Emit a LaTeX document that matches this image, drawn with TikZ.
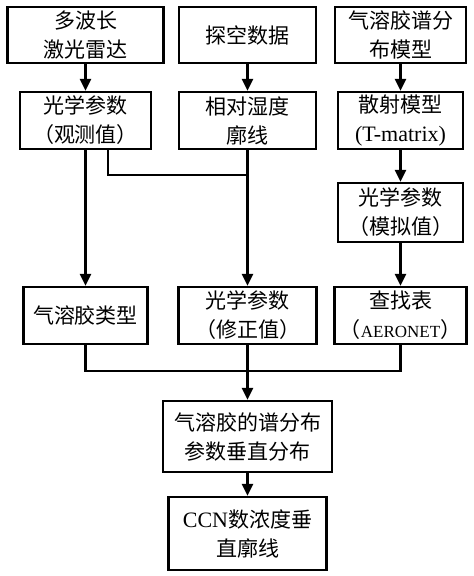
\documentclass[tikz,border=0pt]{standalone}
\usepackage{fontspec}
\setmainfont{Liberation Serif}
\newfontfamily\cjk{Noto Sans CJK SC}
\usetikzlibrary{arrows.meta}
\begin{document}
\begin{tikzpicture}[x=1pt,y=-1pt,
  box/.style={draw, line width=2.5pt, align=center, inner sep=0pt,
    font=\cjk\fontsize{21}{29}\selectfont},
  arr/.style={line width=2.5pt, -{Triangle[length=12pt,width=11pt]}},
  ln/.style={line width=2.5pt}]
\useasboundingbox (0,0) rectangle (474,576);
% row 1
\node[box, minimum width=156pt, minimum height=56pt] (a1) at (85.5,35) {多波长\\激光雷达};
\node[box, minimum width=137pt, minimum height=56pt] (a2) at (247.5,35) {探空数据};
\node[box, minimum width=131pt, minimum height=56pt] (a3) at (400.5,35) {气溶胶谱分\\布模型};
% row 2
\node[box, minimum width=131pt, minimum height=57pt] (b1) at (85.5,120.5) {光学参数\\（观测值）};
\node[box, minimum width=137pt, minimum height=57pt] (b2) at (247.5,120.5) {相对湿度\\廓线};
\node[box, minimum width=125pt, minimum height=57pt] (b3) at (400.5,120.5) {散射模型\\{\rmfamily\fontsize{22}{29}\selectfont (T-matrix)}};
% row 3
\node[box, minimum width=125pt, minimum height=59pt] (c3) at (400.5,212.5) {光学参数\\（模拟值）};
% row 4
\node[box, minimum width=124pt, minimum height=57pt] (d1) at (85.5,315.5) {气溶胶类型};
\node[box, minimum width=138pt, minimum height=57pt] (d2) at (247.5,315.5) {光学参数\\（修正值）};
\node[box, minimum width=132pt, minimum height=57pt] (d3) at (400.5,315.5) {查找表\\（{\rmfamily\fontsize{17}{29}\selectfont AERONET}）};
% row 5, 6
\node[box, minimum width=169pt, minimum height=71pt] (e) at (247.5,436.5) {气溶胶的谱分布\\参数垂直分布};
\node[box, minimum width=158pt, minimum height=73pt] (f) at (247.5,533.5) {{\rmfamily\fontsize{22}{29}\selectfont CCN}数浓度垂\\直廓线};
% connectors
\coordinate (j) at (247.5,175);
\coordinate (m) at (247.5,371);
\draw[arr] (a1) -- (b1);
\draw[arr] (a2) -- (b2);
\draw[arr] (a3) -- (b3);
\draw[arr] (b3) -- (c3);
\draw[arr] (c3) -- (d3);
\draw[arr] (b1) -- (d1);
\draw[arr] (b2) -- (d2);
\draw[ln] ([xshift=22.5pt]b1.south) |- (j);
\draw[ln] (d1.south) |- (m);
\draw[ln] (d3.south) |- (m);
\draw[arr] (d2) -- (e);
\draw[arr] (e) -- (f);
\end{tikzpicture}
\end{document}
